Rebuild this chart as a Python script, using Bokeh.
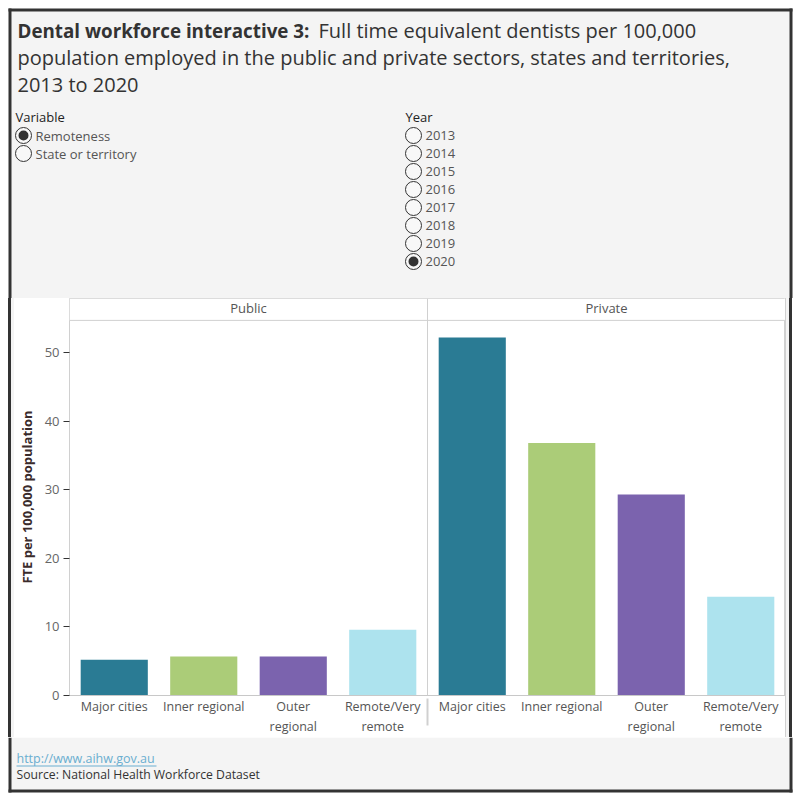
from bokeh.plotting import figure
from bokeh.layouts import column, row
from bokeh.models import (FactorRange, Range1d, SingleIntervalTicker, Label, BoxAnnotation,
                          ColumnDataSource, Span, Div)
from bokeh.embed import file_html
from bokeh.resources import INLINE

# ---------------- data ----------------
sectors = ["Public", "Private"]
regions = ["Major cities", "Inner regional", "Outer\nregional", "Remote/Very\nremote"]
public_fte = [5.2, 5.7, 5.7, 9.6]
private_fte = [52.2, 36.8, 29.3, 14.4]
region_colors = ["#2a7b94", "#abcc78", "#7b63ae", "#ade3ee"]
y_tick_interval = 10
variables = ["Remoteness", "State or territory"]
selected_variable = "Remoteness"
years = ["2013", "2014", "2015", "2016", "2017", "2018", "2019", "2020"]
selected_year = "2020"

title_bold = "Dental workforce interactive 3:"
title_rest = ["Full time equivalent dentists per 100,000",
              "population employed in the public and private sectors, states and territories,",
              "2013 to 2020"]
link_text = "http://www.aihw.gov.au"
source_text = "Source: National Health Workforce Dataset"

FONT = "Open Sans"
GREY = "#f4f4f4"
DARK = "#333333"
LINE = "#d0d0d0"

# ---------------- page geometry (pixels) ----------------
W, H = 800, 800
PANEL_TOP, PANEL_BOT = 298, 737       # white chart panel
PANEL_L, PANEL_R = 14, 785
FRAME_L, HEADER_B, AXIS_Y = 68, 320, 697
PX_PER_UNIT = 6.894


def deco_fig(x0, x1, y0, y1):
    f = figure(width=x1 - x0, height=y1 - y0,
               x_range=Range1d(x0, x1), y_range=Range1d(y1, y0),
               x_axis_location=None, y_axis_location=None, min_border=0,
               output_backend="svg", toolbar_location=None,
               background_fill_color="white", border_fill_color="white")
    f.outline_line_color = None
    f.grid.visible = False
    return f


def rect(f, x0, x1, y0, y1, color):
    f.quad(left=[x0], right=[x1], top=[y0], bottom=[y1], fill_color=color, line_color=None)


def text(f, x, y, s, size="13px", color="#555555", style="normal", align="left"):
    f.add_layout(Label(x=x, y=y, text=s, text_font=FONT, text_font_size=size,
                       text_color=color, text_font_style=style, text_align=align,
                       text_baseline="middle"))


def frame_sides(f, y0, y1):
    rect(f, 8, 11, y0, y1, DARK)
    rect(f, 789, 792, y0, y1, DARK)


# ---------------- top: title + filters ----------------
top = deco_fig(0, W, 0, PANEL_TOP)
rect(top, 11, 789, 11, PANEL_TOP, GREY)
rect(top, 8, 792, 8, 11, DARK)
frame_sides(top, 8, PANEL_TOP)

text(top, 17, 30, title_bold, size="18.8px", color=DARK, style="bold")
text(top, 318, 30, title_rest[0], size="20px", color=DARK)
text(top, 17, 57, title_rest[1], size="20px", color=DARK)
text(top, 17, 84, title_rest[2], size="20px", color=DARK)


def radio_group(f, x, y, title, options, selected):
    text(f, x, y, title, size="13px", color="#222222")
    cys = [y + 19 + 18 * i for i in range(len(options))]
    f.scatter(x=[x + 8] * len(options), y=cys, size=16, marker="circle",
              fill_color="#f8f8f8", line_color=DARK, line_width=1)
    sel = [cy for cy, o in zip(cys, options) if o == selected]
    f.scatter(x=[x + 8] * len(sel), y=sel, size=10, marker="circle",
              fill_color=DARK, line_color=None)
    for cy, o in zip(cys, options):
        text(f, x + 20, cy, o, size="13px", color="#555555")


radio_group(top, 15, 116, "Variable", variables, selected_variable)
radio_group(top, 405, 116, "Year", years, selected_year)

# ---------------- middle: chart ----------------
mid_h = PANEL_BOT - PANEL_TOP
left = Div(width=PANEL_L, height=mid_h, text="", margin=0,
           styles={"background": "linear-gradient(to right, #ffffff 0px, #ffffff 8px, #333333 8px, "
                                  "#333333 11px, #f4f4f4 11px, #f4f4f4 14px)",
                   "padding": "0px"})
right = Div(width=W - PANEL_R, height=mid_h, text="", margin=0,
            styles={"background": "linear-gradient(to right, #d0d0d0 0px, #d0d0d0 1px, #f4f4f4 1px, "
                                   "#f4f4f4 4px, #333333 4px, #333333 7px, #ffffff 7px, #ffffff 15px)",
                    "padding": "0px"})

factors = [(s, r) for s in sectors for r in regions]
values = public_fte + private_fte
colors = region_colors * len(sectors)
src = ColumnDataSource(dict(x=factors, top=values, color=colors))

frame_h = AXIS_Y - PANEL_TOP
p = figure(width=PANEL_R - PANEL_L, height=mid_h,
           x_range=FactorRange(*factors, range_padding=0, group_padding=0, factor_padding=0),
           y_range=Range1d(0, frame_h / PX_PER_UNIT),
           output_backend="svg", toolbar_location=None,
           min_border_left=FRAME_L - PANEL_L, min_border_right=0,
           min_border_top=0, min_border_bottom=PANEL_BOT - AXIS_Y,
           background_fill_color="white", border_fill_color="white")
p.outline_line_color = LINE
p.xgrid.visible = False
p.ygrid.visible = False

p.vbar(x="x", top="top", width=0.75, source=src, fill_color="color", line_color=None)

ya = p.yaxis[0]
ya.ticker = SingleIntervalTicker(interval=y_tick_interval)
ya.axis_line_color = None
ya.major_tick_out = 6
ya.major_tick_in = 0
ya.major_tick_line_color = DARK
ya.minor_tick_line_color = None
ya.major_label_text_color = "#666666"
ya.major_label_text_font = FONT
ya.major_label_text_font_size = "13px"
ya.major_label_standoff = 4
ya.axis_label = "FTE per 100,000 population"
ya.axis_label_text_font = FONT
ya.axis_label_text_font_size = "13px"
ya.axis_label_text_font_style = "bold"
ya.axis_label_text_color = "#3a2b2b"
ya.axis_label_standoff = 6

xa = p.xaxis[0]
xa.axis_line_color = "#c8c8c8"
xa.major_tick_line_color = None
xa.major_label_text_font = FONT
xa.major_label_text_font_size = "12.5px"
xa.major_label_text_color = "#555555"
xa.major_label_standoff = -4
xa.major_label_orientation = "horizontal"
xa.group_text_font_size = "0px"
xa.group_text_color = None
xa.separator_line_color = LINE

# facet header band
header_y = (AXIS_Y - HEADER_B) / PX_PER_UNIT
p.add_layout(BoxAnnotation(bottom=header_y, fill_color="white", fill_alpha=1,
                           line_color=None, level="underlay", editable=False))
p.add_layout(Span(location=header_y, dimension="width", line_color=LINE, line_width=1))
p.add_layout(Span(location=len(regions), dimension="height", line_color=LINE, line_width=1))
for i, s in enumerate(sectors):
    p.add_layout(Label(x=len(regions) * (i + 0.5), y=(AXIS_Y - 309), x_units="data", y_units="screen",
                       text=s, text_font=FONT, text_font_size="13px", text_color="#555555",
                       text_align="center", text_baseline="middle"))

# ---------------- bottom: footer ----------------
bottom = deco_fig(0, W, PANEL_BOT, H)
rect(bottom, 11, 789, PANEL_BOT, 789, GREY)
rect(bottom, 8, 792, 789, 792, DARK)
frame_sides(bottom, PANEL_BOT, 792)
text(bottom, 16, 758, link_text, size="12.5px", color="#6aaed0")
bottom.segment(x0=[16], x1=[156], y0=[765.5], y1=[765.5], line_color="#6aaed0", line_width=1)
text(bottom, 16, 774, source_text, size="12.2px", color=DARK)

layout = column(top, row(left, p, right, spacing=0), bottom, spacing=0)
open("out.html", "w").write(file_html(layout, INLINE))
